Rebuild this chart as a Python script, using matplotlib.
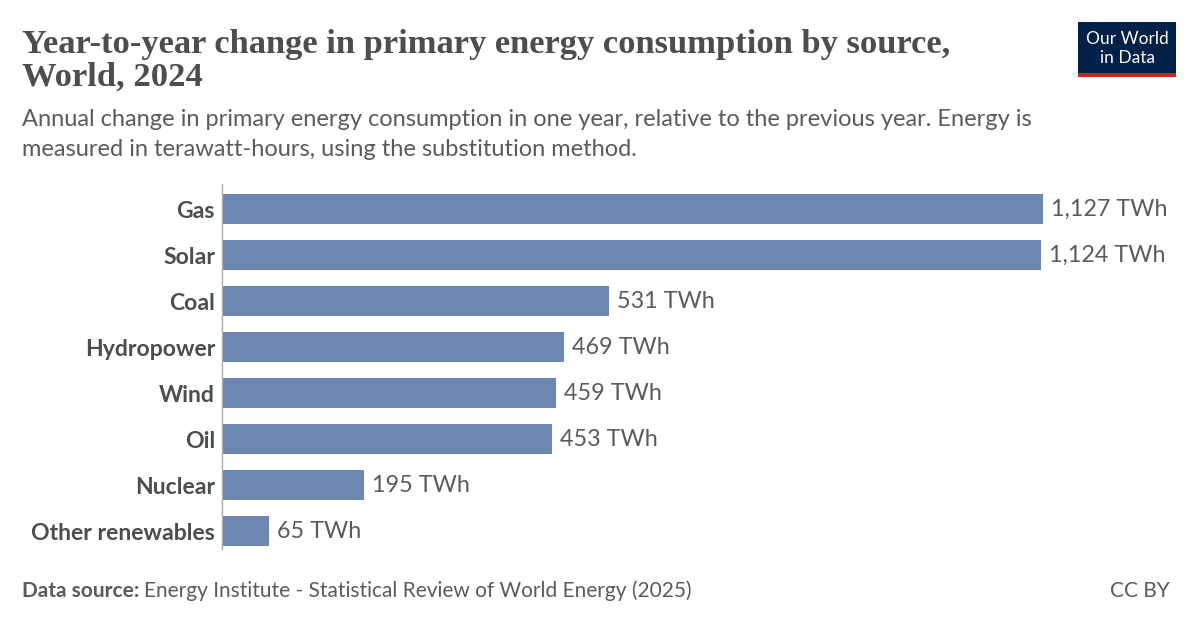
import matplotlib.pyplot as plt
from matplotlib.patches import Rectangle

# data
sources = ['Gas', 'Solar', 'Coal', 'Hydropower', 'Wind', 'Oil', 'Nuclear', 'Other renewables']
change_twh = [1127, 1124, 531, 469, 459, 453, 195, 65]

W, H = 1200, 627
fig = plt.figure(figsize=(12, 6.27), dpi=100)
fig.patch.set_facecolor('white')

def fx(px):
    return px / W

def fy(py):
    return 1 - py / H

# bar area: axis line at x=222, gas bar ends at x=1043
ax = fig.add_axes([fx(222), fy(549), fx(1043 - 222), (549 - 184) / H])
ypos = list(range(len(sources)))
ax.barh(ypos, change_twh, height=0.65, color='#6d87b0', zorder=2)
ax.set_xlim(0, max(change_twh))
ax.set_ylim(len(sources) - 1 + 18 / 46, -25 / 46)
for s in ['top', 'right', 'bottom']:
    ax.spines[s].set_visible(False)
ax.spines['left'].set_color('#aaaaaa')
ax.spines['left'].set_linewidth(1)
ax.set_xticks([])
ax.set_yticks(ypos)
ax.set_yticklabels(sources, fontfamily='Lato', fontweight='bold', fontsize=16.6, color='#4d4d4d')
ax.tick_params(axis='y', length=0, pad=5)

for y, v in zip(ypos, change_twh):
    ax.text(v + 11, y, f'{v:,} TWh', va='center', ha='left', fontfamily='Lato',
            fontsize=16.8, color='#5b5b5b', clip_on=False)

# title & subtitle
fig.text(fx(22), fy(44), 'Year-to-year change in primary energy consumption by source,',
         fontfamily='Liberation Serif', fontweight='bold', fontsize=24.8, color='#4d4d4d', va='center')
fig.text(fx(22), fy(77), 'World, 2024',
         fontfamily='Liberation Serif', fontweight='bold', fontsize=24.8, color='#4d4d4d', va='center')
fig.text(fx(22), fy(120), 'Annual change in primary energy consumption in one year, relative to the previous year. Energy is',
         fontfamily='Lato', fontsize=17, color='#5b5b5b', va='center')
fig.text(fx(22), fy(150), 'measured in terawatt-hours, using the substitution method.',
         fontfamily='Lato', fontsize=17, color='#5b5b5b', va='center')

# footer
t = fig.text(fx(22), fy(591), 'Data source: ', fontfamily='Lato', fontweight='bold',
             fontsize=15, color='#5b5b5b', va='center')
r = fig.canvas.get_renderer()
bb = t.get_window_extent(renderer=r)
fig.text(bb.x1 / W, fy(591), 'Energy Institute - Statistical Review of World Energy (2025)',
         fontfamily='Lato', fontsize=15, color='#5b5b5b', va='center')
fig.text(fx(1170), fy(591), 'CC BY', fontfamily='Lato', fontsize=15, color='#5b5b5b',
         va='center', ha='right')

# logo
fig.patches.append(Rectangle((fx(1078), fy(77)), fx(98), 55 / H, transform=fig.transFigure,
                             facecolor='#002147', edgecolor='none'))
fig.patches.append(Rectangle((fx(1078), fy(77)), fx(98), 4 / H, transform=fig.transFigure,
                             facecolor='#ce261e', edgecolor='none'))
fig.text(fx(1127), fy(39), 'Our World', fontfamily='Lato', fontsize=12.5, color='white',
         ha='center', va='center')
fig.text(fx(1127), fy(58), 'in Data', fontfamily='Lato', fontsize=12.5, color='white',
         ha='center', va='center')

fig.savefig('out.png', dpi=100)
